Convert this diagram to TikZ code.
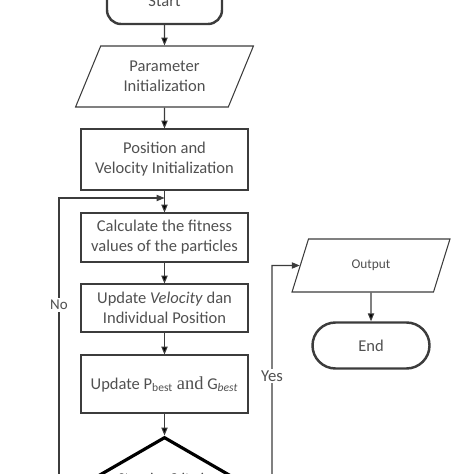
\documentclass[tikz,border=0pt]{standalone}
\usepackage{fontspec}
\setmainfont{Carlito}
\newfontfamily\andfont{Liberation Serif}
\usetikzlibrary{positioning,shapes.geometric,arrows.meta}
\definecolor{ligne}{RGB}{60,60,60}
\definecolor{texte}{RGB}{80,80,80}
\tikzset{
  term/.style={rectangle, draw=ligne, line width=1.4pt, text=texte, minimum width=2.3cm, minimum height=0.92cm, inner sep=0pt, font=\fontsize{9.4}{11.4}\selectfont},
  io/.style={trapezium, trapezium stretches=true, draw=ligne, line width=0.6pt, text=texte, align=center, inner sep=0pt, font=\fontsize{9.4}{11.4}\selectfont},
  proc/.style={rectangle, draw=ligne, line width=0.6pt, text=texte, align=center, minimum width=3.34cm, inner sep=0pt, font=\fontsize{9.4}{11.4}\selectfont},
  decis/.style={diamond, draw=black, line width=1.8pt, text=texte, aspect=1.72, minimum width=2.89cm, minimum height=1.68cm, inner sep=0pt, font=\fontsize{7.7}{9}\selectfont},
  line/.style={draw=ligne, line width=0.6pt, -{Triangle[length=4.5pt,width=3.6pt]}},
  lab/.style={fill=white, text=texte, inner sep=1pt},
}
\begin{document}
\begin{tikzpicture}
   \useasboundingbox (0,0) rectangle (9.48,-9.48);
   \node[term, rounded corners=0.28cm] (start) at (3.29,-0.02) {Start};
   \node[io, minimum width=3.58cm, minimum height=1.22cm, trapezium left angle=62.3, trapezium right angle=117.7] (param) at (3.29,-1.53) {Parameter\\Initialization};
   \node[proc, minimum height=1.22cm] (pos) at (3.29,-3.19) {Position and\\Velocity Initialization};
   \node[proc, minimum height=0.98cm] (calc) at (3.29,-4.75) {Calculate the fitness\\values of the particles};
   \node[proc, minimum height=0.96cm] (vel) at (3.29,-6.16) {Update \textit{Velocity} dan\\Individual Position};
   \node[proc, minimum height=1.16cm] (upd) at (3.29,-7.68) {Update P\textsubscript{best} {\andfont\fontsize{10.5}{12}\selectfont and} G\textsubscript{\textit{best}}};
   \node[decis] (stop) at (3.29,-9.58) {Stopping Criteria};
   \node[io, minimum width=3.16cm, minimum height=1.06cm, trapezium left angle=64.7, trapezium right angle=115.3, font=\fontsize{7.6}{9}\selectfont] (out) at (7.42,-5.31) {Output};
   \node[term, minimum width=2.34cm, rounded corners=0.46cm] (end) at (7.42,-6.91) {End};
   \coordinate (join) at (3.29,-3.96);
   \coordinate (nocorner) at (1.18,-3.96);
   \coordinate (yescorner) at (5.44,-5.31);

  \path[line]
    (start) edge (param)
    (param) edge (pos)
    (pos) edge (calc)
    (calc) edge (vel)
    (vel) edge (upd)
    (upd) edge (stop)
    (out) edge (end);
  \draw[line] (stop.west) -| (nocorner) -- (join);
  \draw[line] (stop.east) -| (yescorner) -- (out.180);
  \node[lab, font=\fontsize{8.5}{10}\selectfont] (no) at (1.18,-6.10) {No};
  \node[lab, font=\fontsize{9.5}{11}\selectfont] (yes) at (5.44,-7.52) {Yes};
\end{tikzpicture}
\end{document}
